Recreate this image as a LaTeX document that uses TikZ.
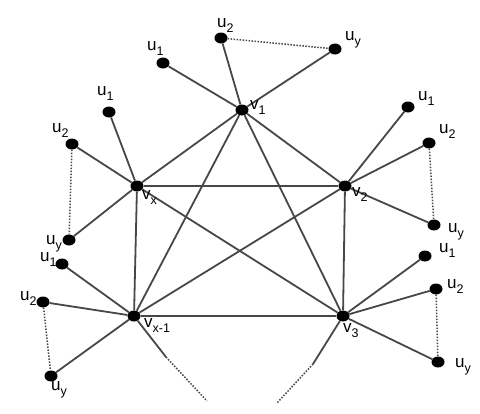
\documentclass[tikz,border=0pt]{standalone}
\usepackage{fontspec}
\setmainfont{Liberation Sans}
\usetikzlibrary{shapes.geometric}
\newcommand\lbl[2]{#1\raisebox{-5.5pt}{\fontsize{12.5}{12.5}\selectfont #2}}
\begin{document}
\begin{tikzpicture}[x=1pt,y=-1pt,
 dot/.style={ellipse,fill=black,minimum width=13pt,minimum height=11pt,inner sep=0},
 edge/.style={draw=black!72,line width=1.8pt},
 dots/.style={draw=black!72,line width=1.5pt,dash pattern=on 1.5pt off 1.5pt},
 lab/.style={anchor=base west,inner sep=0,font=\fontsize{17}{17}\selectfont}]
\useasboundingbox[fill=white] (0,0) rectangle (480,413);
% core vertices
\node[dot] (v1) at (242,110) {};
\node[dot] (v2) at (345,186) {};
\node[dot] (vx) at (137,186) {};
\node[dot] (vy) at (134,316) {};
\node[dot] (v3) at (343,316) {};
% leaves of v1
\node[dot] (a1) at (163,63) {};
\node[dot] (a2) at (221,38) {};
\node[dot] (ay) at (335,49) {};
% leaves of vx
\node[dot] (b1) at (109,112) {};
\node[dot] (b2) at (72,144) {};
\node[dot] (by) at (69,240) {};
% leaves of vx-1
\node[dot] (c1) at (62,264) {};
\node[dot] (c2) at (43,302) {};
\node[dot] (cy) at (51,376) {};
% leaves of v2
\node[dot] (d1) at (408,107) {};
\node[dot] (d2) at (429,143) {};
\node[dot] (dy) at (434,225) {};
% leaves of v3
\node[dot] (e1) at (425,256) {};
\node[dot] (e2) at (436,289) {};
\node[dot] (ey) at (438,362) {};
% open ends
\coordinate (ce) at (166,357);
\coordinate (cf) at (207,401);
\coordinate (ee) at (313,364);
\coordinate (ef) at (277,403);
% complete graph edges
\draw[edge] (v1) -- (v2);
\draw[edge] (v1) -- (vx);
\draw[edge] (v1) -- (vy);
\draw[edge] (v1) -- (v3);
\draw[edge] (vx) -- (v2);
\draw[edge] (vx) -- (vy);
\draw[edge] (vx) -- (v3);
\draw[edge] (v2) -- (vy);
\draw[edge] (v2) -- (v3);
\draw[edge] (vy) -- (v3);
% leaf edges
\draw[edge] (v1) -- (a1);
\draw[edge] (v1) -- (a2);
\draw[edge] (v1) -- (ay);
\draw[edge] (vx) -- (b1);
\draw[edge] (vx) -- (b2);
\draw[edge] (vx) -- (by);
\draw[edge] (vy) -- (c1);
\draw[edge] (vy) -- (c2);
\draw[edge] (vy) -- (cy);
\draw[edge] (vy) -- (ce);
\draw[edge] (v2) -- (d1);
\draw[edge] (v2) -- (d2);
\draw[edge] (v2) -- (dy);
\draw[edge] (v3) -- (e1);
\draw[edge] (v3) -- (e2);
\draw[edge] (v3) -- (ey);
\draw[edge] (v3) -- (ee);
% dotted
\draw[dots] (a2) -- (ay);
\draw[dots] (b2) -- (by);
\draw[dots] (c2) -- (cy);
\draw[dots] (d2) -- (dy);
\draw[dots] (e2) -- (ey);
\draw[dots] (ce) -- (cf);
\draw[dots] (ee) -- (ef);
% labels
\node[lab] (lv1) at (250,109) {\lbl{v}{1}};
\node[lab] (lvx) at (142,199) {\lbl{v}{x}};
\node[lab] (lv2) at (352,196) {\lbl{v}{2}};
\node[lab] (lvy) at (144,327) {\lbl{v}{x-1}};
\node[lab] (lv3) at (343,332) {\lbl{v}{3}};
\node[lab] (la1) at (147,50) {\lbl{u}{1}};
\node[lab] (la2) at (217,27) {\lbl{u}{2}};
\node[lab] (lay) at (345,40) {\lbl{u}{y}};
\node[lab] (lb1) at (97,95) {\lbl{u}{1}};
\node[lab] (lb2) at (52,132) {\lbl{u}{2}};
\node[lab] (lby) at (46,244) {\lbl{u}{y}};
\node[lab] (lc1) at (40,261) {\lbl{u}{1}};
\node[lab] (lc2) at (20,300) {\lbl{u}{2}};
\node[lab] (lcy) at (51,390) {\lbl{u}{y}};
\node[lab] (ld1) at (418,100) {\lbl{u}{1}};
\node[lab] (ld2) at (439,133) {\lbl{u}{2}};
\node[lab] (ldy) at (448,232) {\lbl{u}{y}};
\node[lab] (le1) at (439,252) {\lbl{u}{1}};
\node[lab] (le2) at (447,288) {\lbl{u}{2}};
\node[lab] (ley) at (455,367) {\lbl{u}{y}};
\end{tikzpicture}
\end{document}
